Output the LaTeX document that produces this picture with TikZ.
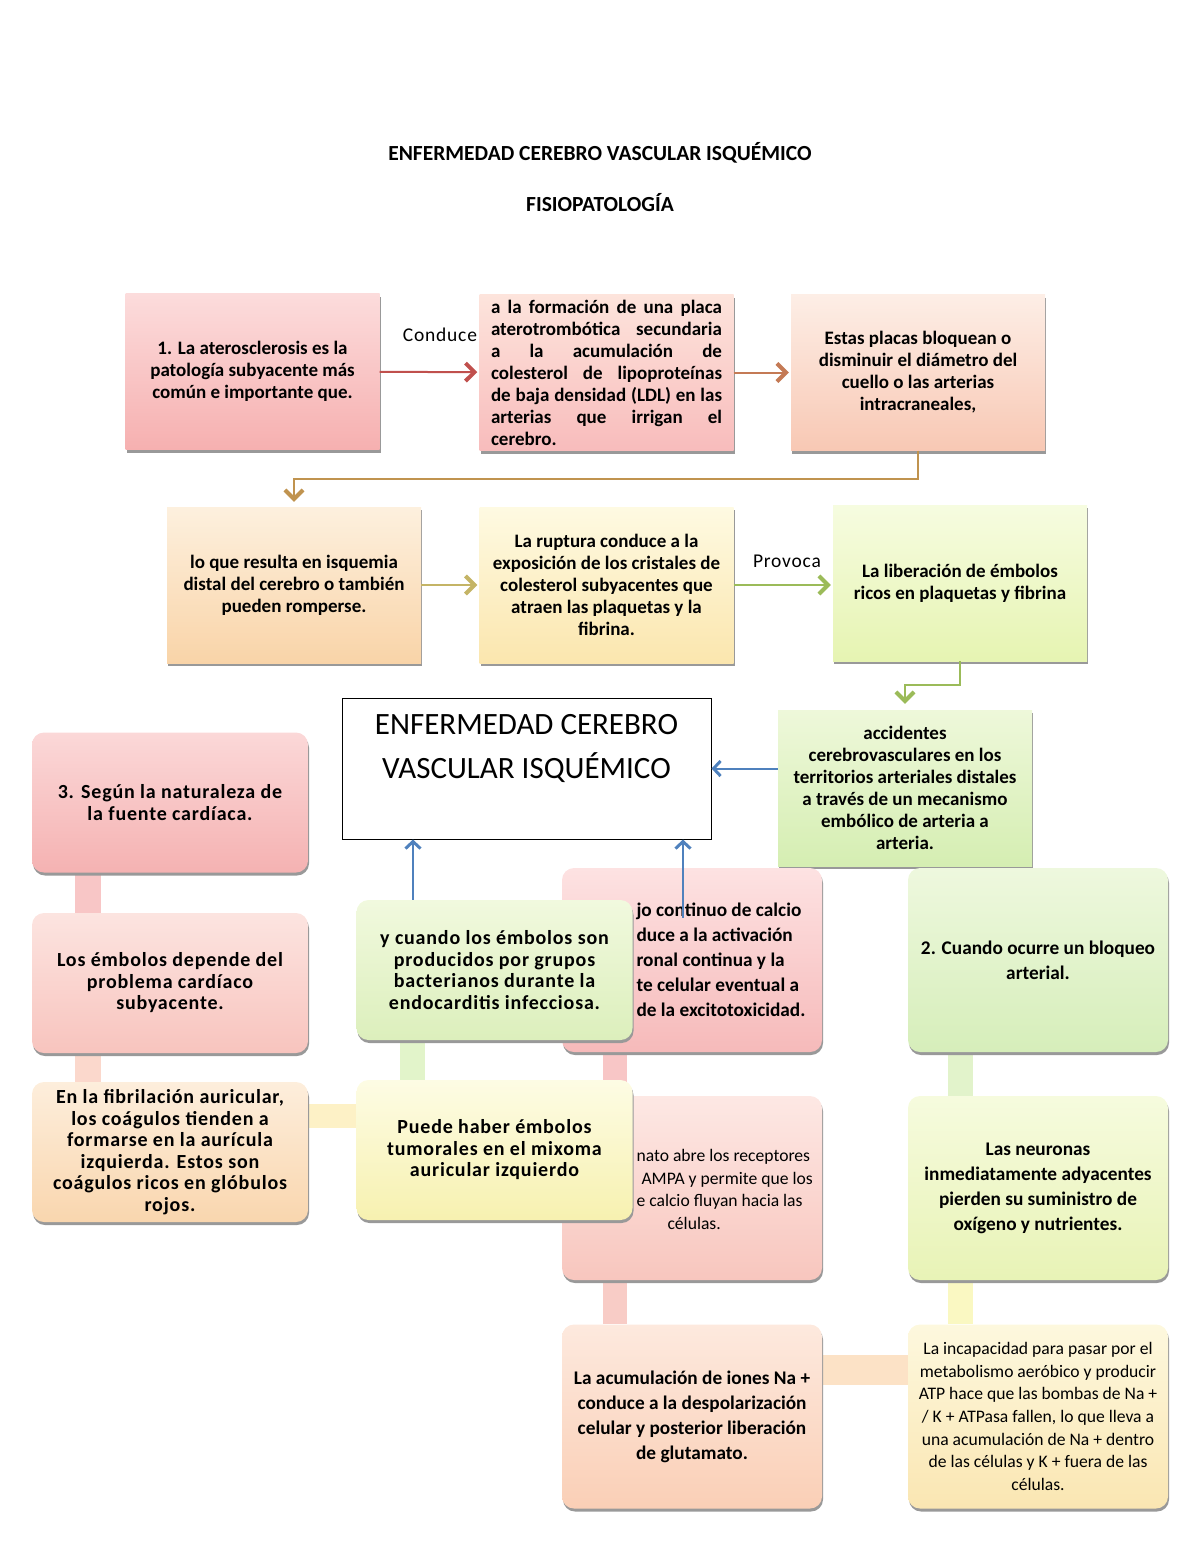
\documentclass[tikz,border=0pt]{standalone}
\usepackage{fontspec}
\setmainfont{Carlito}
\newfontfamily\widefont[LetterSpace=4]{Carlito}
\usetikzlibrary{positioning}
\usetikzlibrary{arrows.meta}
\usetikzlibrary{shadows}
\usetikzlibrary{calc}
\pgfdeclarelayer{background}
\pgfsetlayers{background,main}

\definecolor{flowred}{HTML}{C0504D}
\definecolor{flowbrown}{HTML}{C47A55}
\definecolor{flowgold}{HTML}{C0934F}
\definecolor{flowolive}{HTML}{C4B466}
\definecolor{flowgreen}{HTML}{9BBB59}
\definecolor{flowblue}{HTML}{4F81BD}

\begin{document}
\begin{tikzpicture}[
  x=1pt, y=-1pt,
  font=\fontsize{19}{22}\selectfont\bfseries,
  card/.style={inner sep=0pt, align=center, minimum width=254pt, minimum height=156pt,
    drop shadow={shadow xshift=1pt, shadow yshift=-3pt, fill=black!40, opacity=1}},
  pill/.style={card, rounded corners=12pt, minimum width=276pt, minimum height=140pt,
    font=\widefont\fontsize{20}{21.5}\selectfont\bfseries},
  tall/.style={card, rounded corners=12pt, minimum width=260pt, minimum height=184pt},
  shade/.style 2 args={/utils/exec={\definecolor{shtop}{HTML}{#1}\definecolor{shbot}{HTML}{#2}},
    top color=shtop, bottom color=shbot},
  tip/.style={-{Straight Barb[length=9pt, width=18pt, line width=4pt]}},
  flow/.style={line width=2pt, tip, shorten >=2pt},
  bflow/.style={line width=2pt, flowblue, -{Straight Barb[length=7pt, width=15pt, line width=3pt]}},
  bar/.style={/utils/exec={\definecolor{barfill}{HTML}{#1}}, fill=barfill},
  note/.style={font=\widefont\fontsize{19.5}{20}\selectfont\mdseries},
  big/.style={font=\fontsize{19.3}{25}\selectfont\bfseries},
  plain/.style={font=\fontsize{17.6}{22.6}\selectfont\mdseries}
]
\useasboundingbox (0,0) rectangle (1200,1553);

% Titles
\node[font=\fontsize{21.5}{22}\selectfont\bfseries] (title) at (600,153) {ENFERMEDAD CEREBRO VASCULAR ISQUÉMICO};
\node[font=\fontsize{21.5}{22}\selectfont\bfseries] (subtitle) at (600,203) {FISIOPATOLOGÍA};

% First row
\node[card, shade={FCDCDC}{F6B0B0}] (ather) at (252.5,371.5)
  {1. La aterosclerosis es la\\patología subyacente más\\común e importante que.};
\node[card, shade={FDE4DC}{F8BCBC}, align=left] (plaque) at (606.5,372.5)
  {\makebox[231pt][s]{a la formación de una placa}\\
   \makebox[231pt][s]{aterotrombótica secundaria}\\
   \makebox[231pt][s]{a la acumulación de}\\
   \makebox[231pt][s]{colesterol de lipoproteínas}\\
   \makebox[231pt][s]{de baja densidad (LDL) en las}\\
   \makebox[231pt][s]{arterias que irrigan el}\\
   cerebro.};
\node[card, shade={FDEEE6}{F8C8B4}] (block) at (918,372.5)
  {Estas placas bloquean o\\disminuir el diámetro del\\cuello o las arterias\\intracraneales,};

\node[note] (conduce) at (440,335) {Conduce};
\draw[flow, flowred] (ather) -- (plaque);
\draw[flow, flowbrown] (plaque) -- (block);

% Second row
\node[card, shade={FDF0DE}{F9D4A8}] (ischemia) at (294,585)
  {lo que resulta en isquemia\\distal del cerebro o también\\pueden romperse.};
\node[card, shade={FEFAE2}{FBE6AE}] (rupture) at (606.5,585)
  {La ruptura conduce a la\\exposición de los cristales de\\colesterol subyacentes que\\atraen las plaquetas  y la\\fibrina.};
\node[card, shade={F6FCE0}{E6F4B2}] (release) at (960,583)
  {La liberación de émbolos\\ricos en plaquetas y fibrina};

\draw[line width=2pt, flowgold, tip, shorten >=5pt]
  (block.south) -- ++(0,28) -| (ischemia.north);
\draw[flow, flowolive] (ischemia) -- (rupture);
\node[note] (provoca) at (787,561) {Provoca};
\draw[flow, flowgreen] (rupture) -- (rupture -| release.west);

% Disease box and embolic stroke
\node[draw, line width=1pt, fill=white, inner sep=0pt, align=center, minimum width=369pt, minimum height=141pt,
  font=\fontsize{31}{44}\selectfont\mdseries] (disease) at (526.5,768.5)
  {ENFERMEDAD CEREBRO\\VASCULAR ISQUÉMICO\\\mbox{}};
\node[card, shade={EEF8DA}{D5EEB2}] (embolic) at (905,788)
  {accidentes\\cerebrovasculares en los\\territorios arteriales distales\\a través de un mecanismo\\embólico de arteria a\\arteria.};

\draw[line width=2pt, flowgreen, tip, shorten >=6pt]
  (release.south) -- ++(0,24) -| (embolic.north);
\draw[bflow] (embolic.west |- disease.east) -- (disease.east);

% Cardiac source column
\node[pill, shade={FBD8D8}{F5B2B2}] (cardiac) at (170,802.5)
  {3. Según la naturaleza de\\la fuente cardíaca.};
\node[pill, shade={FCE4E0}{F8C4BE}] (depends) at (170,983)
  {Los émbolos depende del\\problema cardíaco\\subyacente.};
\node[pill, shade={FDEEDC}{F9D6AE}] (atrial) at (170,1152)
  {En la fibrilación auricular,\\los coágulos tienden a\\formarse en la aurícula\\izquierda. Estos son\\coágulos ricos en glóbulos\\rojos.};

% Excitotoxicity column
\node[tall, shade={FDE2E2}{F6BABA}] (calcium) at (692,960) {};
\node[big, anchor=west, align=left] (calciumtxt) at (633,960)
  {jo continuo de calcio\\duce a la activación\\ronal continua y la\\te celular eventual a\\de la excitotoxicidad.};
\node[tall, shade={FDE8E4}{F8C6BE}] (ampa) at (692,1188) {};
\node[plain, anchor=west, align=left] (ampatxt) at (633,1189.5)
  {nato abre los receptores\\\hspace*{5pt}AMPA y permite que los\\e calcio fluyan hacia las\\\hspace*{31pt}células.};
\node[tall, big, shade={FDE9DE}{FACFB6}] (sodium) at (692,1416.5)
  {La acumulación de iones Na +\\conduce a la despolarización\\celular y posterior liberación\\de glutamato.};

% Middle column (over the excitotoxicity column)
\node[pill, shade={F1F9DE}{DCEFBC}] (infect) at (494.5,970)
  {y cuando los émbolos son\\producidos por  grupos\\bacterianos  durante la\\endocarditis infecciosa.};
\node[pill, shade={FDFCE4}{F7F1B0}] (myxoma) at (494.5,1150)
  {Puede haber émbolos\\tumorales en  el mixoma\\auricular izquierdo};

% Arterial block column
\node[tall, big, shade={EEF8DE}{D6EEBA}] (arterial) at (1038,960)
  {2. Cuando ocurre un bloqueo\\arterial.};
\node[tall, big, shade={F6FBDE}{E8F3B6}] (neurons) at (1038,1188)
  {Las neuronas\\inmediatamente adyacentes\\pierden su suministro de\\oxígeno y nutrientes.};
\node[tall, plain, shade={FDF8DE}{FAE6B2}] (atp) at (1038,1416.5)
  {La incapacidad para pasar por el\\metabolismo aeróbico y producir\\ATP hace que las bombas de Na +\\/ K + ATPasa fallen, lo que lleva a\\una acumulación de Na + dentro\\de las células y K + fuera de las\\células.};

% Arrows into the disease box
\draw[bflow] (infect.north -| 413,0) -- (disease.south -| 413,0);
\draw[bflow] ($(calcium.north -| 683,0)+(0,50)$) -- (disease.south -| 683,0);

% Connector bars
\begin{pgfonlayer}{background}
\fill[bar=F8C6C6] (cardiac.south -| 75,0) rectangle (depends.north -| 101,0);
\fill[bar=FBD8CC] (depends.south -| 75,0) rectangle (atrial.north -| 101,0);
\fill[bar=FDF1C6] (atrial.east |- 0,1104) rectangle (myxoma.west |- 0,1128);
\fill[bar=E2F4CA] (infect.south -| 400,0) rectangle (myxoma.north -| 425,0);
\fill[bar=F8C6C6] (calcium.south -| 603,0) rectangle (ampa.north -| 627,0);
\fill[bar=F8CCC6] (ampa.south -| 603,0) rectangle (sodium.north -| 627,0);
\fill[bar=FCE2C6] (sodium.east |- 0,1355) rectangle (atp.west |- 0,1385);
\fill[bar=E2F3CB] (arterial.south -| 948,0) rectangle (neurons.north -| 973,0);
\fill[bar=FAF8C2] (neurons.south -| 948,0) rectangle (atp.north -| 973,0);
\end{pgfonlayer}

\end{tikzpicture}
\end{document}
